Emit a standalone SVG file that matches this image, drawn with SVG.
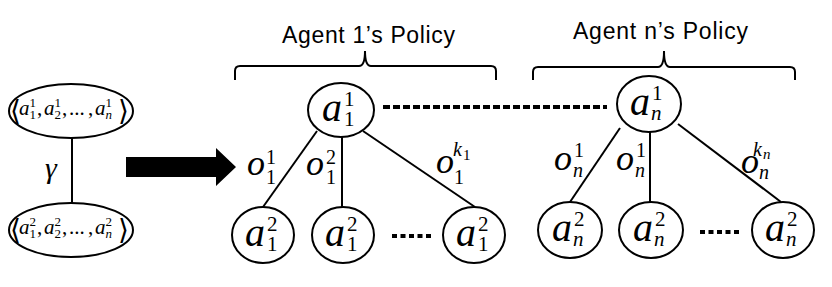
<svg xmlns="http://www.w3.org/2000/svg" width="832" height="287" viewBox="0 0 832 287">
<style>
.sh{fill:#fff;stroke:#000;stroke-width:2}
.ln{stroke:#000;stroke-width:2;fill:none}
.m{font-family:"Liberation Serif","DejaVu Serif",serif;font-style:italic;fill:#000}
.d{font-family:"Liberation Serif","DejaVu Serif",serif;font-style:normal;fill:#000}
.br{font-family:"DejaVu Serif",serif;fill:#000;font-size:28px}
.big{font-size:40px}
.sc{font-size:21px}
.ob{font-size:36px}
.osc{font-size:20px}
.ksc{font-size:15px}
.s{font-size:21px}
.ss{font-size:13px}
.g{font-size:30px}
.t{font-family:"Liberation Sans",Arial,sans-serif;font-size:23px;fill:#000}
</style>
<rect width="832" height="287" fill="#fff"/>
<g id="connectors">
<line class="ln" x1="72" y1="138" x2="72" y2="203"/>
<line class="ln" x1="317" y1="131" x2="263" y2="207"/>
<line class="ln" x1="342" y1="137" x2="342" y2="207"/>
<line class="ln" x1="363" y1="131" x2="475" y2="207"/>
<line class="ln" x1="620" y1="128" x2="570" y2="202"/>
<line class="ln" x1="650" y1="132" x2="650" y2="202"/>
<line class="ln" x1="678" y1="124" x2="781" y2="202"/>
<line x1="383" y1="107" x2="607" y2="107" stroke="#000" stroke-width="4" stroke-dasharray="7 3"/>
<line x1="392" y1="236" x2="433" y2="236" stroke="#000" stroke-width="4" stroke-dasharray="5 3.5"/>
<line x1="700" y1="232" x2="742" y2="232" stroke="#000" stroke-width="4" stroke-dasharray="5 3.5"/>
<polygon points="126,157 216,157 216,148 236,167 216,186 216,177 126,177" fill="#000"/>
</g>
<g id="labels">
<text class="m g" x="45" y="178">γ</text>
<text class="m ob" x="247" y="175">o</text><text class="d osc" x="266" y="164">1</text><text class="d osc" x="266" y="184">1</text>
<text class="m ob" x="306" y="175">o</text><text class="d osc" x="326" y="164">2</text><text class="d osc" x="326" y="184">1</text>
<text class="m ob" x="436" y="173">o</text><text class="m osc" x="453" y="156">k</text><text class="d ksc" x="463" y="160">1</text><text class="d osc" x="454" y="184">1</text>
<text class="m ob" x="554" y="170">o</text><text class="d osc" x="574" y="157">1</text><text class="m osc" x="573" y="177">n</text>
<text class="m ob" x="616" y="170">o</text><text class="d osc" x="636" y="157">1</text><text class="m osc" x="635" y="177">n</text>
<text class="m ob" x="741" y="173">o</text><text class="m osc" x="753" y="156">k</text><text class="m ksc" x="763" y="159">n</text><text class="m osc" x="759" y="179">n</text>
</g>
<g id="brace1">
<path class="ln" d="M235,80 L235,71 Q235,66 240,66 L359,66 Q365,66 365,51 Q365,66 371,66 L491,66 Q496,66 496,71 L496,80"/>
<text class="t" x="368.5" y="43" text-anchor="middle" textLength="173">Agent 1’s Policy</text>
</g>
<g id="brace2">
<path class="ln" d="M533,80 L533,72 Q533,67 538,67 L658,67 Q664,67 664,51 Q664,67 670,67 L790,67 Q795,67 795,72 L795,80"/>
<text class="t" x="660.5" y="39" text-anchor="middle" textLength="175">Agent n’s Policy</text>
</g>
<g id="joint1">
<ellipse class="sh" cx="71" cy="111" rx="62" ry="27"/>
<text class="br" x="10" y="120">⟨</text>
<text class="m s" x="19" y="115">a</text><text class="d ss" x="29.5" y="107">1</text><text class="d ss" x="29.5" y="119">1</text>
<text class="d s" x="37" y="115">,</text>
<text class="m s" x="44" y="115">a</text><text class="d ss" x="54.5" y="107">1</text><text class="d ss" x="54.5" y="119">2</text>
<text class="d s" x="62" y="115">,</text>
<text class="d s" x="69" y="115">...</text>
<text class="d s" x="88" y="115">,</text>
<text class="m s" x="95" y="115">a</text><text class="d ss" x="105.5" y="107">1</text><text class="m ss" x="105.5" y="119">n</text>
<text class="br" x="118" y="120">⟩</text>
</g>
<g id="joint2">
<ellipse class="sh" cx="71" cy="230" rx="62" ry="27"/>
<text class="br" x="10" y="239">⟨</text>
<text class="m s" x="19" y="234">a</text><text class="d ss" x="29.5" y="226">2</text><text class="d ss" x="29.5" y="238">1</text>
<text class="d s" x="37" y="234">,</text>
<text class="m s" x="44" y="234">a</text><text class="d ss" x="54.5" y="226">2</text><text class="d ss" x="54.5" y="238">2</text>
<text class="d s" x="62" y="234">,</text>
<text class="d s" x="69" y="234">...</text>
<text class="d s" x="88" y="234">,</text>
<text class="m s" x="95" y="234">a</text><text class="d ss" x="105.5" y="226">2</text><text class="m ss" x="105.5" y="238">n</text>
<text class="br" x="118" y="239">⟩</text>
</g>
<g id="a1_1">
<ellipse class="sh" cx="341" cy="110" rx="33" ry="27"/>
<text class="m big" x="322" y="121">a</text><text class="d sc" x="344" y="106">1</text><text class="d sc" x="344" y="126">1</text>
</g>
<g id="an_1">
<ellipse class="sh" cx="649" cy="104" rx="32" ry="28"/>
<text class="m big" x="630" y="115">a</text><text class="d sc" x="652" y="100">1</text><text class="m sc" x="651" y="120">n</text>
</g>
<g id="a1_2_1">
<ellipse class="sh" cx="263" cy="235" rx="31" ry="28"/>
<text class="m big" x="245" y="246">a</text><text class="d sc" x="267" y="231">2</text><text class="d sc" x="267" y="251">1</text>
</g>
<g id="a1_2_2">
<ellipse class="sh" cx="343" cy="235" rx="31" ry="28"/>
<text class="m big" x="325" y="246">a</text><text class="d sc" x="347" y="231">2</text><text class="d sc" x="347" y="251">1</text>
</g>
<g id="a1_2_k">
<ellipse class="sh" cx="474" cy="235" rx="31" ry="28"/>
<text class="m big" x="456" y="246">a</text><text class="d sc" x="478" y="231">2</text><text class="d sc" x="478" y="251">1</text>
</g>
<g id="an_2_1">
<ellipse class="sh" cx="570" cy="230" rx="32" ry="28"/>
<text class="m big" x="552" y="241">a</text><text class="d sc" x="574" y="226">2</text><text class="m sc" x="573" y="246">n</text>
</g>
<g id="an_2_2">
<ellipse class="sh" cx="651" cy="230" rx="32" ry="28"/>
<text class="m big" x="633" y="241">a</text><text class="d sc" x="655" y="226">2</text><text class="m sc" x="654" y="246">n</text>
</g>
<g id="an_2_k">
<ellipse class="sh" cx="783" cy="230" rx="31" ry="28"/>
<text class="m big" x="765" y="241">a</text><text class="d sc" x="787" y="226">2</text><text class="m sc" x="786" y="246">n</text>
</g>
</svg>
